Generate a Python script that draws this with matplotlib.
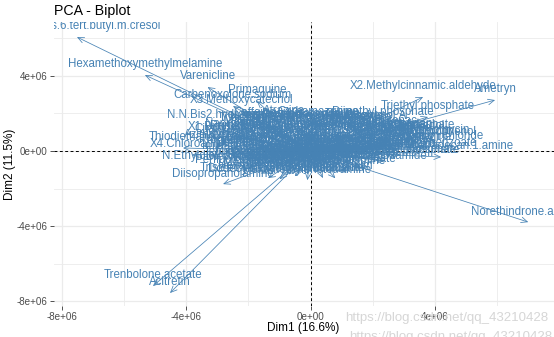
import matplotlib
matplotlib.use("Agg")
import matplotlib.pyplot as plt
from matplotlib.ticker import FuncFormatter, MultipleLocator

plt.rcParams['font.family'] = ['Liberation Sans', 'DejaVu Sans']

# --- variables far from the origin (readable labels), coordinates in units of 1e6 ---
outer_names = [
    "X4.4.Thiobis.6.tert.butyl.m.cresol", "Hexamethoxymethylmelamine", "Varenicline",
    "Primaquine", "Carbenoxolone.sodium", "X3.Methoxycatechol",
    "N.N.Bis2.hydroxyethyl.dodecanamide", "X1.Butyl.2.pyrrolidone", "Thiodiethanol",
    "X4.Chloroaniline", "N.Ethyldiethanolamine", "Tris2.ethylhexyl.phosphate",
    "Diisopropanolamine", "Glycyrrhizic.acid", "Trenbolone.acetate", "Acitretin",
    "Norethindrone.acetate", "X2.Methylcinnamic.aldehyde", "Ametryn",
    "Triethyl.phosphate", "Dimethyl.phosphate", "N.N.Dimethyldodecylamine",
    "Tetrabutylammonium.hexafluorophosphate", "Pentachlorophenol",
    "Benzethonium.chloride", "N.Methyltetradecan.1.amine",
    "Tris2.butoxyethyl.phosphate", "Quinoline.carboxamide", "Denatonium.benzoate",
]
outer_dim1 = [-7.53, -5.34, -3.32, -1.73, -2.50, -2.21, -1.53, -2.15, -4.11,
              -3.82, -2.92, -1.37, -2.82, 0.40, -5.08, -4.53, 7.02, 3.63, 5.95,
              3.79, 2.34, -0.34, 1.15, 3.79, 3.69, 4.21, 2.40, 1.85, 3.53]
outer_dim2 = [6.06, 4.04, 3.40, 2.66, 2.39, 2.13, 1.33, 0.74, 0.16,
              -0.21, -0.85, -1.44, -1.76, -1.44, -7.18, -7.55, -3.78, 2.87, 2.71,
              1.81, 1.49, 1.22, 0.80, 0.43, 0.21, -0.32, -0.53, -0.85, -0.11]

# --- variables crowded around the origin (overlapping labels) ---
inner_names = [
    "Caffeine", "Atrazine", "Carbamazepine", "Diuron", "Bisphenol.A", "Triclosan",
    "Metformin", "Sulfamethoxazole", "Trimethoprim", "Ibuprofen", "Diclofenac",
    "Naproxen", "Gemfibrozil", "Benzotriazole", "Tolyltriazole", "Acesulfame",
    "Sucralose", "Venlafaxine", "Tramadol", "Citalopram", "Lidocaine", "Metoprolol",
    "Atenolol", "Propranolol", "Sotalol", "Bezafibrate", "Clarithromycin",
    "Erythromycin", "Azithromycin", "Ciprofloxacin", "Ofloxacin", "Oxazepam",
    "Diazepam", "Fluoxetine", "Sertraline", "Terbutryn", "Simazine", "Prometryn",
    "Irgarol", "Isoproturon", "Chlorotoluron", "Metolachlor", "Mecoprop",
    "Bentazone", "MCPA", "Imidacloprid", "Thiacloprid", "Acetamiprid",
    "Clothianidin", "Thiamethoxam", "Fipronil", "Carbendazim", "Tebuconazole",
    "Propiconazole", "Climbazole", "Triphenyl.phosphate", "Tributyl.phosphate",
    "Tris2.chloroisopropyl.phosphate", "Diethyltoluamide", "Benzophenone.3",
    "Octocrylene", "Galaxolide", "Tonalide", "Methylparaben", "Propylparaben",
    "Nonylphenol", "Triethanolamine", "Dodecyltrimethylammonium",
    "Hexamethylenetetramine", "Melamine",
    "Amitriptyline", "Desvenlafaxine", "Hydrochlorothiazide", "Furosemide",
    "Valsartan", "Losartan", "Irbesartan", "Candesartan", "Telmisartan",
    "Olmesartan", "Primidone", "Phenytoin", "Lamotrigine", "Gabapentin",
    "Levetiracetam", "Oxcarbazepine", "Codeine", "Morphine", "Oxycodone",
    "Methadone", "Cocaine", "Benzoylecgonine", "Nicotine", "Cotinine",
    "Paraxanthine", "Theophylline", "Ranitidine", "Cimetidine", "Omeprazole",
    "Pantoprazole", "Fexofenadine", "Cetirizine", "Diphenhydramine", "Ketoprofen",
    "Indomethacin", "Mefenamic.acid", "Salicylic.acid", "Paracetamol",
    "Antipyrine", "Propyphenazone", "Iopromide", "Iohexol", "Iomeprol",
    "Diatrizoic.acid", "Metoprolol.acid", "Perfluorooctanoic.acid",
    "Perfluorooctanesulfonic.acid", "Triisobutyl.phosphate",
    "Tris2.chloroethyl.phosphate", "Hexadecyltrimethylammonium",
]
inner_dim1 = [-1.8, -0.85, 0.25, 1.05, 2.1,
              -2.2, -1.25, -0.45, 0.55, 1.6, 2.55,
              -2.6, -1.65, -0.8, 0.15, 0.95, 1.85, 2.75, 3.55,
              -2.85, -2.05, -1.1, -0.15, 0.7, 1.55, 2.45, 3.35, 4.05,
              -3.0, -2.15, -1.35, -0.5, 0.4, 1.3, 2.15, 2.95, 3.8,
              -2.75, -1.9, -0.95, -0.05, 0.85, 1.7, 2.6, 3.45,
              -2.5, -1.6, -0.7, 0.2, 1.1, 2.0, 2.9,
              -2.3, -1.4, -0.55, 0.35, 1.3, 2.2,
              -2.0, -1.1, -0.2, 0.75, 1.6,
              -1.6, -0.7, 0.2, 1.1,
              -1.0, -0.1, 0.8,
              -1.3, -0.3, 0.7, 1.6,
              -2.0, -1.0, 0.05, 1.0, 2.05, 3.0,
              -2.4, -1.4, -0.4, 0.5, 1.4, 2.3, 3.2,
              -2.6, -1.6, -0.7, 0.2, 1.1, 2.0, 3.0,
              -2.5, -1.7, -0.8, 0.1, 1.0, 1.9, 2.8,
              -2.3, -1.4, -0.5, 0.4, 1.3, 2.3,
              -2.0, -1.1, -0.2, 0.7, 1.6,
              -1.8, -0.9, 0.0, 0.9,
              -1.4, -0.4, 0.5,
              -0.5, 3.9]
inner_dim2 = [1.45, 1.55, 1.5, 1.4, 1.3,
              1.2, 1.25, 1.15, 1.2, 1.1, 1.05,
              0.9, 0.95, 0.85, 0.9, 0.95, 0.85, 0.8, 0.75,
              0.6, 0.65, 0.55, 0.6, 0.65, 0.55, 0.6, 0.5, 0.55,
              0.3, 0.25, 0.35, 0.3, 0.25, 0.3, 0.35, 0.25, 0.2,
              0.0, 0.05, -0.05, 0.0, 0.05, -0.05, 0.0, 0.1,
              -0.3, -0.25, -0.35, -0.3, -0.25, -0.35, -0.2,
              -0.6, -0.65, -0.55, -0.6, -0.55, -0.5,
              -0.9, -0.95, -0.85, -0.9, -0.8,
              -1.2, -1.25, -1.15, -1.1,
              -1.5, -1.55, -1.45,
              1.35, 1.4, 1.3, 1.25,
              1.05, 1.1, 1.0, 1.05, 0.95, 0.9,
              0.75, 0.8, 0.7, 0.75, 0.7, 0.65, 0.65,
              0.45, 0.5, 0.4, 0.45, 0.4, 0.45, 0.4,
              0.15, 0.2, 0.1, 0.15, 0.1, 0.15, 0.1,
              -0.15, -0.1, -0.2, -0.15, -0.1, -0.15,
              -0.45, -0.5, -0.4, -0.45, -0.4,
              -0.75, -0.8, -0.7, -0.75,
              -1.05, -1.1, -1.0,
              -1.35, 0.35]

x_ticks = [-8, -4, 0, 4]
y_ticks = [-8, -4, 0, 4]

COL = "#4682B4"
SCALE = 1e6

fig = plt.figure(figsize=(5.54, 3.37), dpi=100)
ax = fig.add_axes([54 / 554, 1 - 306 / 337, 1 - 54 / 554, (306 - 22) / 337])
ax.set_xlim(-8.27 * SCALE, 7.85 * SCALE)
ax.set_ylim(-8.24 * SCALE, 6.86 * SCALE)

# grid like theme_minimal
ax.xaxis.set_major_locator(MultipleLocator(4 * SCALE))
ax.yaxis.set_major_locator(MultipleLocator(4 * SCALE))
ax.xaxis.set_minor_locator(MultipleLocator(2 * SCALE))
ax.yaxis.set_minor_locator(MultipleLocator(2 * SCALE))
ax.grid(True, which='major', color='#EBEBEB', linewidth=0.9)
ax.grid(True, which='minor', color='#EBEBEB', linewidth=0.6)
ax.set_axisbelow(True)
for s in ax.spines.values():
    s.set_visible(False)

fmt = FuncFormatter(lambda v, p: "0e+00" if abs(v) < 1 else "%de+06" % round(v / SCALE))
ax.xaxis.set_major_formatter(fmt)
ax.yaxis.set_major_formatter(fmt)
ax.set_xticks([t * SCALE for t in x_ticks])
ax.set_yticks([t * SCALE for t in y_ticks])
ax.tick_params(which='major', length=3, width=0.6, color='#333333',
               labelsize=7.1, labelcolor='#4D4D4D', pad=1.5)
ax.tick_params(which='minor', length=0)

ax.axhline(0, color='black', linestyle=(0, (3, 2.5)), linewidth=0.7, zorder=1)
ax.axvline(0, color='black', linestyle=(0, (3, 2.5)), linewidth=0.7, zorder=1)

names = outer_names + inner_names
d1 = outer_dim1 + inner_dim1
d2 = outer_dim2 + inner_dim2

for n, x, y in zip(names, d1, d2):
    ax.annotate("", xy=(x * SCALE, y * SCALE), xytext=(0, 0),
                arrowprops=dict(arrowstyle='->,head_length=0.45,head_width=0.2',
                                color=COL, linewidth=0.55, shrinkA=0, shrinkB=0),
                zorder=2)
for n, x, y in zip(names, d1, d2):
    t = ax.annotate(n, xy=(x * SCALE, y * SCALE), xytext=(0, 3.3),
                    textcoords='offset points', ha='center', va='bottom',
                    color=COL, fontsize=8.3, zorder=3)
    t.set_clip_path(ax.patch)

fig.text(54 / 554, 1 - 15 / 337, "PCA - Biplot", fontsize=10.2, ha='left',
         va='baseline', color='black')
fig.text(303 / 554, 1 - 328 / 337, "Dim1 (16.6%)", fontsize=8.5, ha='center',
         va='center', color='black')
fig.text(10 / 554, 1 - 164 / 337, "Dim2 (11.5%)", fontsize=8.5, ha='center',
         va='center', rotation=90, color='black')

# blog watermark
fig.text(345 / 554, 1 - 318 / 337, "https://blog.csdn.net/qq_43210428",
         fontsize=9.5, color='#D6D6D6', ha='left', va='center')
fig.text(349 / 554, 1 - 337 / 337, "https://blog.csdn.net/qq_43210428",
         fontsize=9.5, color='#D6D6D6', ha='left', va='center')

fig.savefig("out.png", dpi=100)
